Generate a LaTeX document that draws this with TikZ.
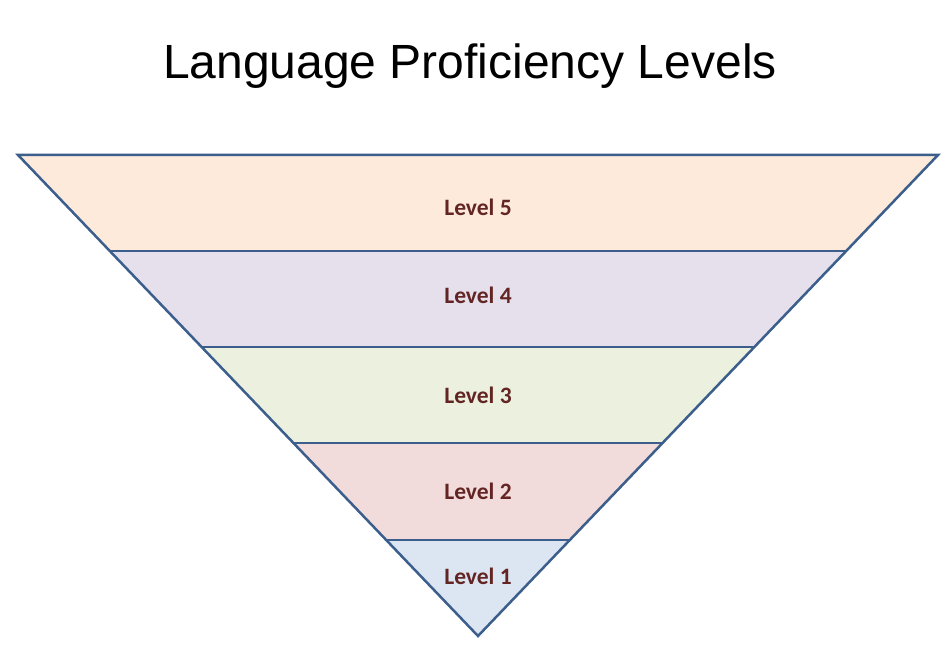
\documentclass[tikz,border=0pt]{standalone}
\usepackage{fontspec}
\setmainfont{Liberation Sans}
\newfontfamily\lvlfont{Carlito}
\definecolor{edgeblue}{HTML}{3B5E8C}
\definecolor{lvltext}{HTML}{632523}
\definecolor{fillfive}{HTML}{FDEADA}
\definecolor{fillfour}{HTML}{E5E0EC}
\definecolor{fillthree}{HTML}{EBF1DE}
\definecolor{filltwo}{HTML}{F2DCDB}
\definecolor{fillone}{HTML}{DCE6F2}
\tikzset{
  band/.style={draw=edgeblue,line width=2.5bp},
  lvl/.style={font=\lvlfont\bfseries\fontsize{23.5bp}{28bp}\selectfont,text=lvltext},
}
\begin{document}
\begin{tikzpicture}[line join=bevel,]
\useasboundingbox (0bp,0bp) rectangle (951bp,653bp);
%%
\coordinate (l_5) at (18.0bp,498.0bp);   \coordinate (r_5) at (938.0bp,498.0bp);
\coordinate (l_4) at (109.8bp,402.0bp);  \coordinate (r_4) at (846.2bp,402.0bp);
\coordinate (l_3) at (201.6bp,306.0bp);  \coordinate (r_3) at (754.4bp,306.0bp);
\coordinate (l_2) at (293.4bp,210.0bp);  \coordinate (r_2) at (662.6bp,210.0bp);
\coordinate (l_1) at (386.2bp,113.0bp);  \coordinate (r_1) at (569.8bp,113.0bp);
\coordinate (apex) at (478.0bp,17.0bp);
%
\fill [fillfive] (l_5) -- (r_5) -- (r_4) -- (l_4) -- cycle;
\fill [fillfour] (l_4) -- (r_4) -- (r_3) -- (l_3) -- cycle;
\fill [fillthree] (l_3) -- (r_3) -- (r_2) -- (l_2) -- cycle;
\fill [filltwo] (l_2) -- (r_2) -- (r_1) -- (l_1) -- cycle;
\fill [fillone] (l_1) -- (r_1) -- (apex) -- cycle;
\draw [band] (l_4) -- (r_4);
\draw [band] (l_3) -- (r_3);
\draw [band] (l_2) -- (r_2);
\draw [band] (l_1) -- (r_1);
\draw [band,line join=miter] (l_5) -- (r_5) -- (apex) -- cycle;
%
\node (title) at (470.0bp,586.5bp) {\fontsize{48bp}{56bp}\selectfont Language Proficiency Levels};
\node (level_5) at (478.0bp,446.0bp) [lvl] {Level 5};
\node (level_4) at (478.0bp,358.0bp) [lvl] {Level 4};
\node (level_3) at (478.0bp,258.0bp) [lvl] {Level 3};
\node (level_2) at (478.0bp,162.0bp) [lvl] {Level 2};
\node (level_1) at (478.0bp,77.0bp) [lvl] {Level 1};
%
\end{tikzpicture}
\end{document}
